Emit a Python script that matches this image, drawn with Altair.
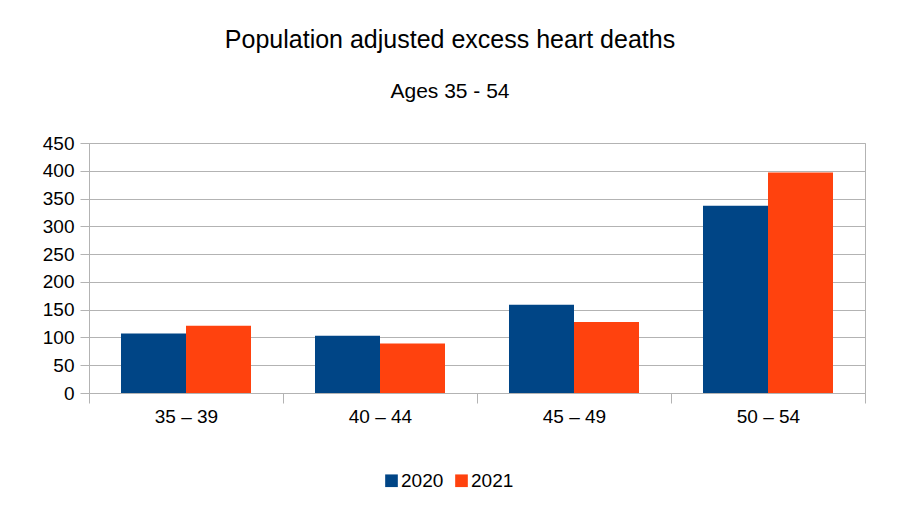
import altair as alt
import pandas as pd

groups = ["35 – 39", "40 – 44", "45 – 49", "50 – 54"]
years = ["2020", "2021"]
v2020 = [107, 103, 159, 337]
v2021 = [121, 89, 128, 397]

rows = []
for g, a, b in zip(groups, v2020, v2021):
    rows.append({"group": g, "year": "2020", "value": a})
    rows.append({"group": g, "year": "2021", "value": b})
df = pd.DataFrame(rows)

FONT = "Liberation Sans"
GRID = "#b3b3b3"

chart = alt.Chart(df).mark_bar().encode(
    x=alt.X("group:N", sort=groups, title=None,
            scale=alt.Scale(paddingInner=0, paddingOuter=0),
            axis=alt.Axis(labelAngle=0, tickBand="extent", tickSize=10, tickColor=GRID,
                          domainColor=GRID, labelFontSize=19, labelPadding=4,
                          labelColor="black", grid=False)),
    xOffset=alt.XOffset("year:N", sort=years,
                        scale=alt.Scale(paddingInner=0, paddingOuter=0.4923)),
    y=alt.Y("value:Q", title=None,
            scale=alt.Scale(domain=[0, 450], nice=False),
            axis=alt.Axis(values=list(range(0, 451, 50)), tickSize=9, tickColor=GRID,
                          domainColor=GRID, gridColor=GRID, labelFontSize=19,
                          labelPadding=6, labelColor="black")),
    color=alt.Color("year:N", sort=years,
                    scale=alt.Scale(domain=years, range=["#004586", "#ff420e"]),
                    legend=alt.Legend(title=None, orient="none", legendX=293, legendY=328,
                                      direction="horizontal", columns=2,
                                      symbolType="square", symbolSize=160,
                                      symbolStrokeWidth=0, labelFontSize=19,
                                      labelColor="black", labelOffset=0,
                                      columnPadding=8)),
).properties(
    width=776, height=250,
    title=alt.TitleParams("Population adjusted excess heart deaths",
                          subtitle="Ages 35 - 54", anchor="middle", dx=-27,
                          fontSize=25, fontWeight="normal", subtitleFontSize=21,
                          color="black", subtitleColor="black", subtitlePadding=28,
                          offset=32, font=FONT, subtitleFont=FONT),
    autosize=alt.AutoSizeParams(type="none"),
    padding={"left": 89, "top": 143, "right": 36, "bottom": 115},
).configure(font=FONT).configure_view(stroke=GRID, strokeWidth=1)

chart.save("out.html", embed_options={"renderer": "svg", "actions": False})
